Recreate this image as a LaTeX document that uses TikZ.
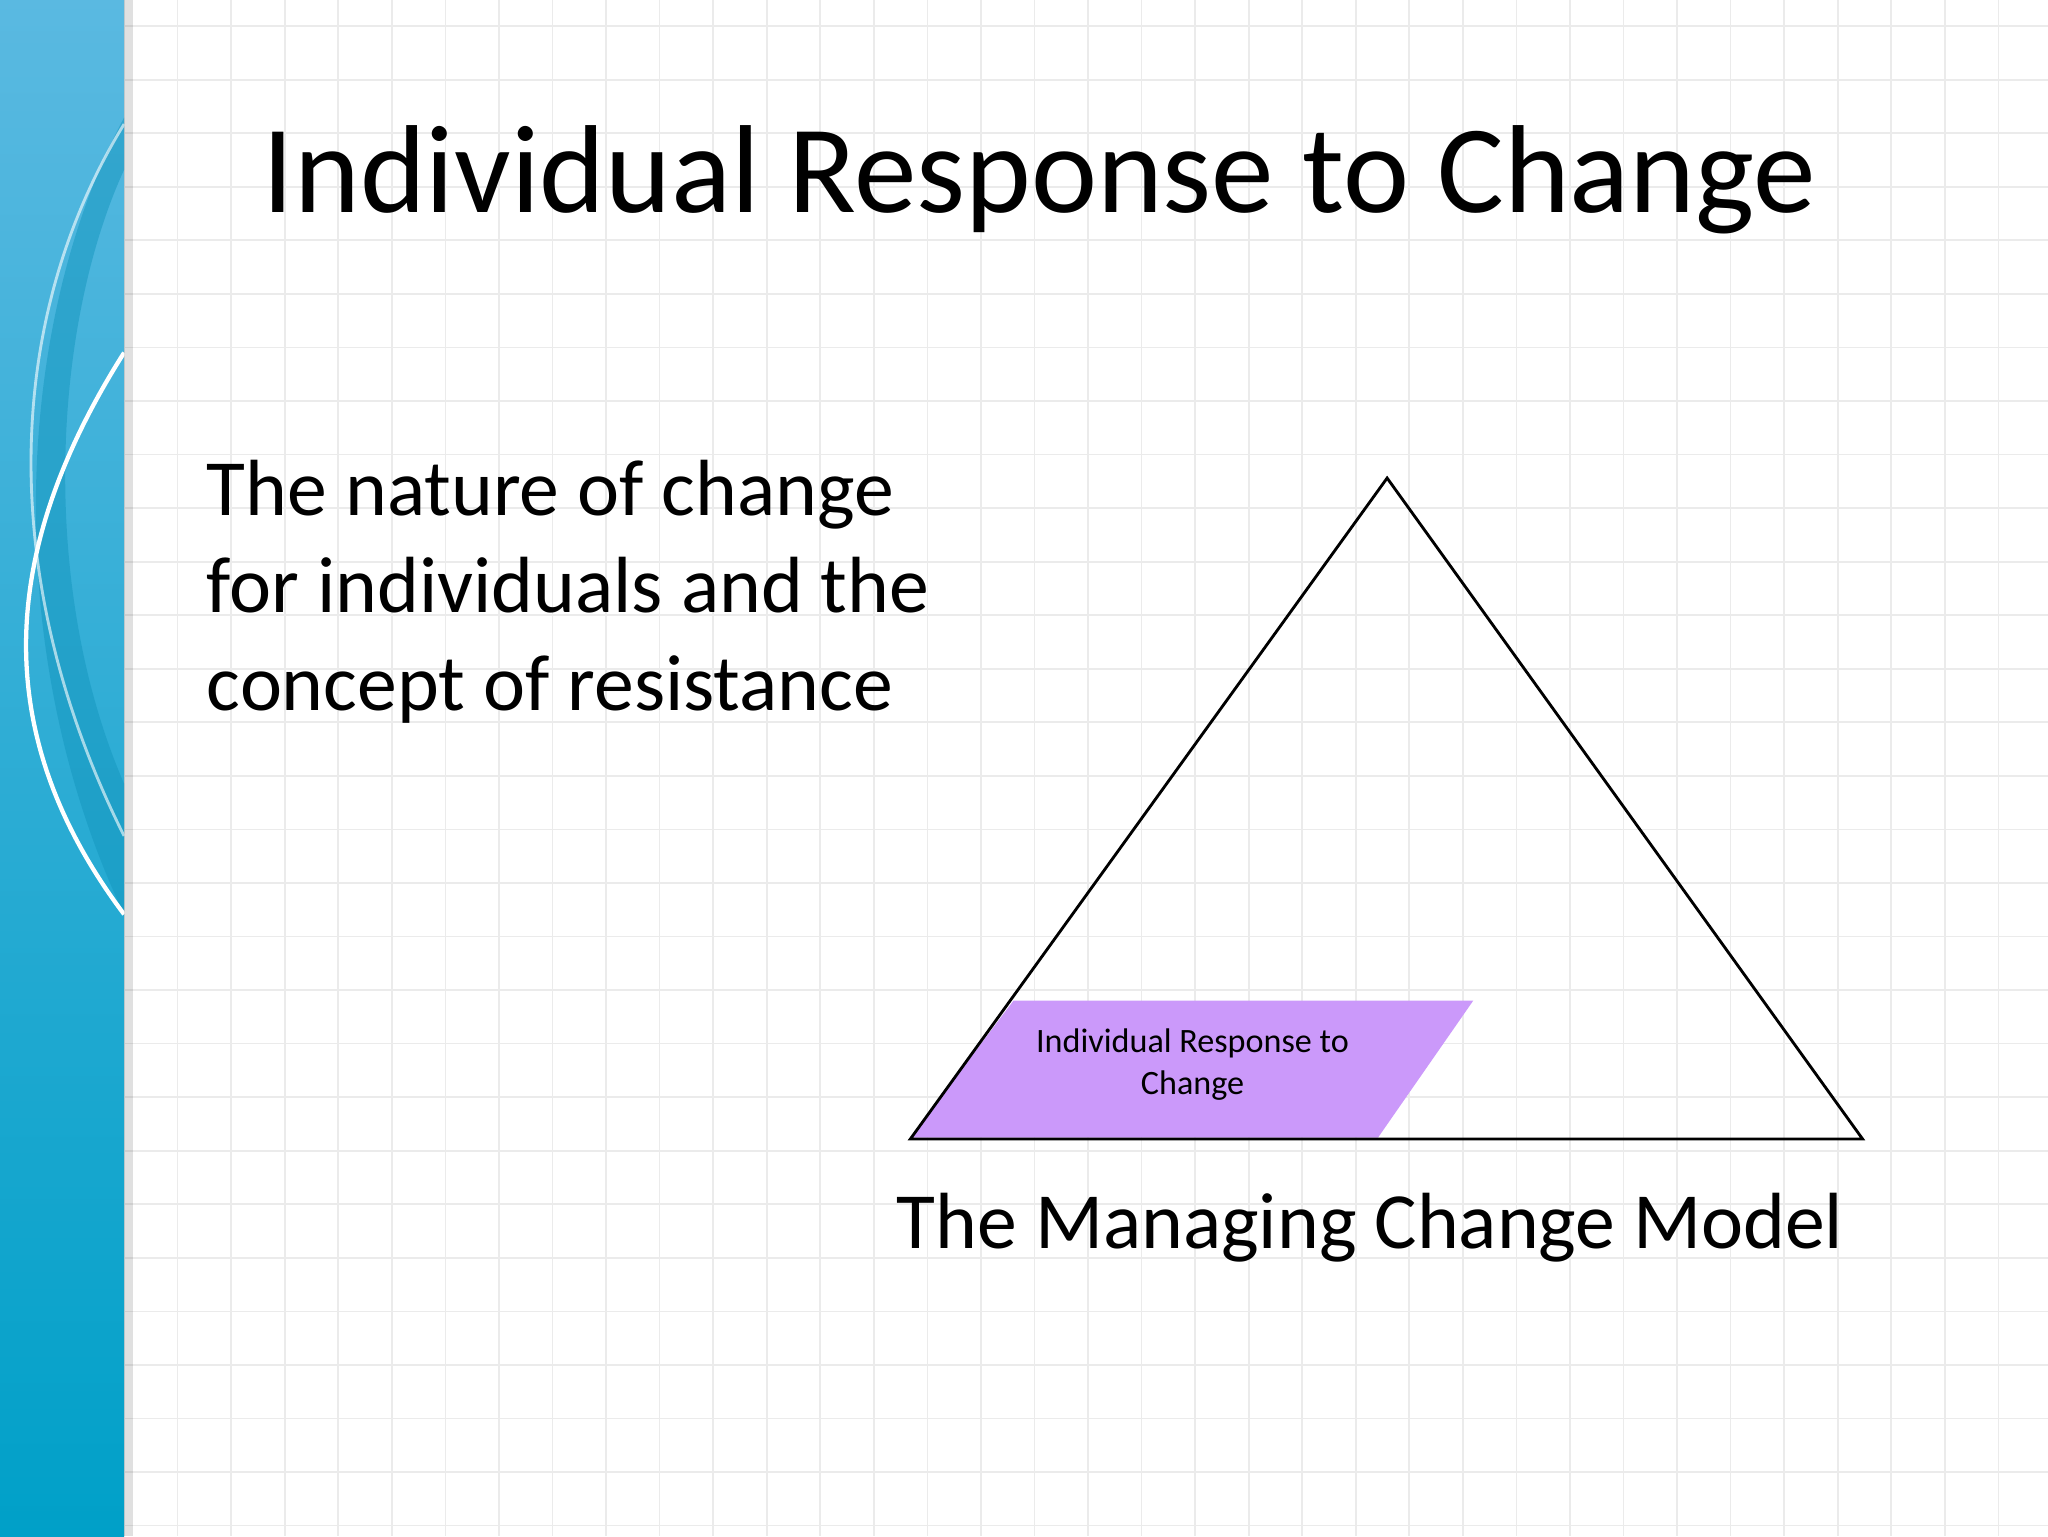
\documentclass[tikz,border=0pt]{standalone}
\usepackage{fontspec}
\setmainfont{Carlito}
\definecolor{bandtop}{RGB}{90,185,225}
\definecolor{bandbot}{RGB}{0,160,200}
\definecolor{bandmid}{RGB}{20,150,190}
\definecolor{boxfill}{RGB}{203,153,250}
\begin{document}
\begin{tikzpicture}[x=0.459pt,y=-0.459pt,
  txt/.style={inner sep=0pt,font=\fontsize{28}{34}\selectfont}]
\useasboundingbox (0,0) rectangle (1568,1176);
\fill[white] (0,0) rectangle (1568,1176);
\foreach \i in {0,...,40}{\draw[black!8,line width=0.6pt] (95+\i*41,0)--(95+\i*41,1176);}
\foreach \j in {0,...,29}{\draw[black!8,line width=0.6pt] (95,20+\j*41)--(1568,20+\j*41);}
% left band
\shade[top color=bandtop,bottom color=bandbot] (0,0) rectangle (95,1176);
\fill[bandmid,opacity=0.5] (95,90) .. controls (10,250) and (0,500) .. (95,700) -- (95,600) .. controls (30,450) and (40,250) .. (95,130) -- cycle;
\draw[white,line width=1.5pt] (95,270) .. controls (0,420) and (-10,560) .. (95,700);
\draw[white,opacity=0.6,line width=1pt] (95,95) .. controls (0,250) and (0,450) .. (95,640);
\fill[black,opacity=0.12] (95,0) rectangle (102,1176);
% texts
\node[txt,font=\fontsize{44}{50}\selectfont] (title) at (796,138) {Individual Response to Change};
\node[txt,align=left,anchor=north west,font=\fontsize{28}{34.2}\selectfont] (body) at (158,352) {The nature of change\\for individuals and the\\concept of resistance};
% triangle
\coordinate (apex) at (1062,366);
\coordinate (bl) at (697,872);
\coordinate (br) at (1426,872);
\fill[boxfill] (776,766) -- (1128,766) -- (1055,871) -- (697,871) -- cycle;
\draw[line width=1pt,line join=miter] (apex) -- (br) -- (bl) -- cycle;
\node[txt,align=center,font=\fontsize{12}{14.5}\selectfont] (box) at (913,815) {Individual Response to\\Change};
\node[txt] (cap) at (1049,940) {The Managing Change Model};
\end{tikzpicture}
\end{document}
